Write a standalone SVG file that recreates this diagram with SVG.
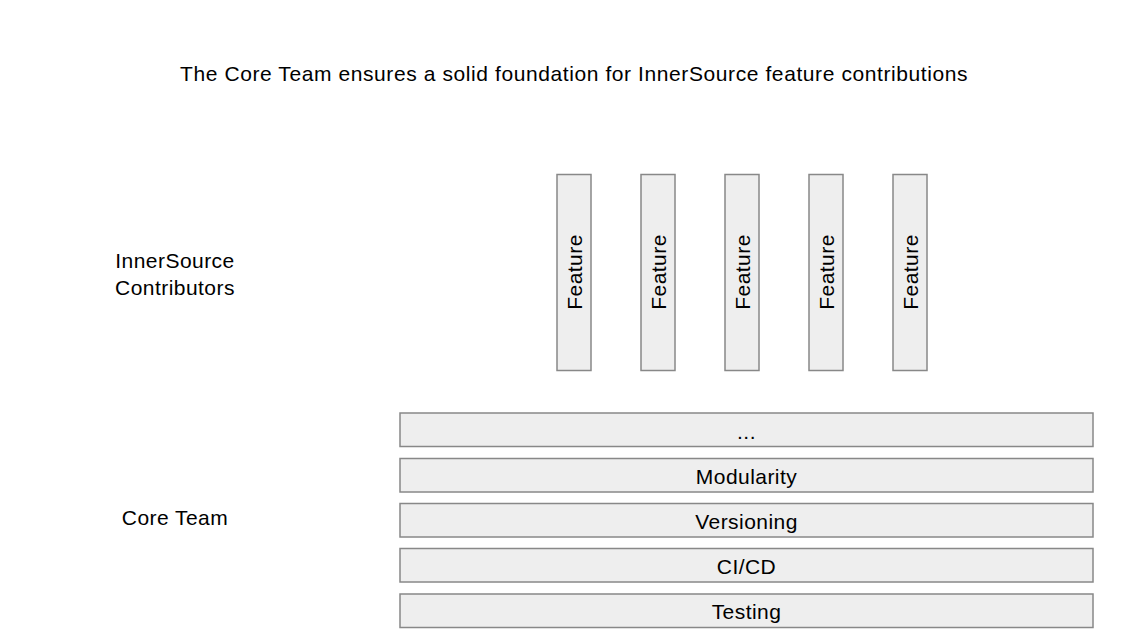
<svg xmlns="http://www.w3.org/2000/svg" width="1148" height="642" viewBox="0 0 1148 642">
<style>
.b{fill:#eeeeee;stroke:#888888;stroke-width:1.5}
.t{font-family:"Liberation Sans",Arial,sans-serif;font-size:21px;letter-spacing:0.45px;fill:#000}
.c{text-anchor:middle;dominant-baseline:central}
</style>
<rect width="1148" height="642" fill="#fff"/>
<text class="t c" x="574" y="73" textLength="788" lengthAdjust="spacing">The Core Team ensures a solid foundation for InnerSource feature contributions</text>
<g id="lbl-is"><text class="t c" x="175" y="260">InnerSource</text><text class="t c" x="175" y="287">Contributors</text></g>
<g id="lbl-core"><text class="t c" x="175" y="517">Core Team</text></g>
<g id="f1"><rect class="b" x="557" y="174.5" width="34" height="196"/><text class="t c" transform="translate(574,272) rotate(-90)">Feature</text></g>
<g id="f2"><rect class="b" x="641" y="174.5" width="34" height="196"/><text class="t c" transform="translate(658,272) rotate(-90)">Feature</text></g>
<g id="f3"><rect class="b" x="725" y="174.5" width="34" height="196"/><text class="t c" transform="translate(742,272) rotate(-90)">Feature</text></g>
<g id="f4"><rect class="b" x="809" y="174.5" width="34" height="196"/><text class="t c" transform="translate(826,272) rotate(-90)">Feature</text></g>
<g id="f5"><rect class="b" x="893" y="174.5" width="34" height="196"/><text class="t c" transform="translate(910,272) rotate(-90)">Feature</text></g>
<g id="l1"><rect class="b" x="400" y="413" width="693" height="33.5"/><text class="t c" x="746.5" y="431">...</text></g>
<g id="l2"><rect class="b" x="400" y="458.5" width="693" height="33.5"/><text class="t c" x="746.5" y="476">Modularity</text></g>
<g id="l3"><rect class="b" x="400" y="503.5" width="693" height="33.5"/><text class="t c" x="746.5" y="521">Versioning</text></g>
<g id="l4"><rect class="b" x="400" y="548.5" width="693" height="33.5"/><text class="t c" x="746.5" y="566">CI/CD</text></g>
<g id="l5"><rect class="b" x="400" y="594" width="693" height="33.5"/><text class="t c" x="746.5" y="611">Testing</text></g>
<g id="connectors"/>
</svg>
